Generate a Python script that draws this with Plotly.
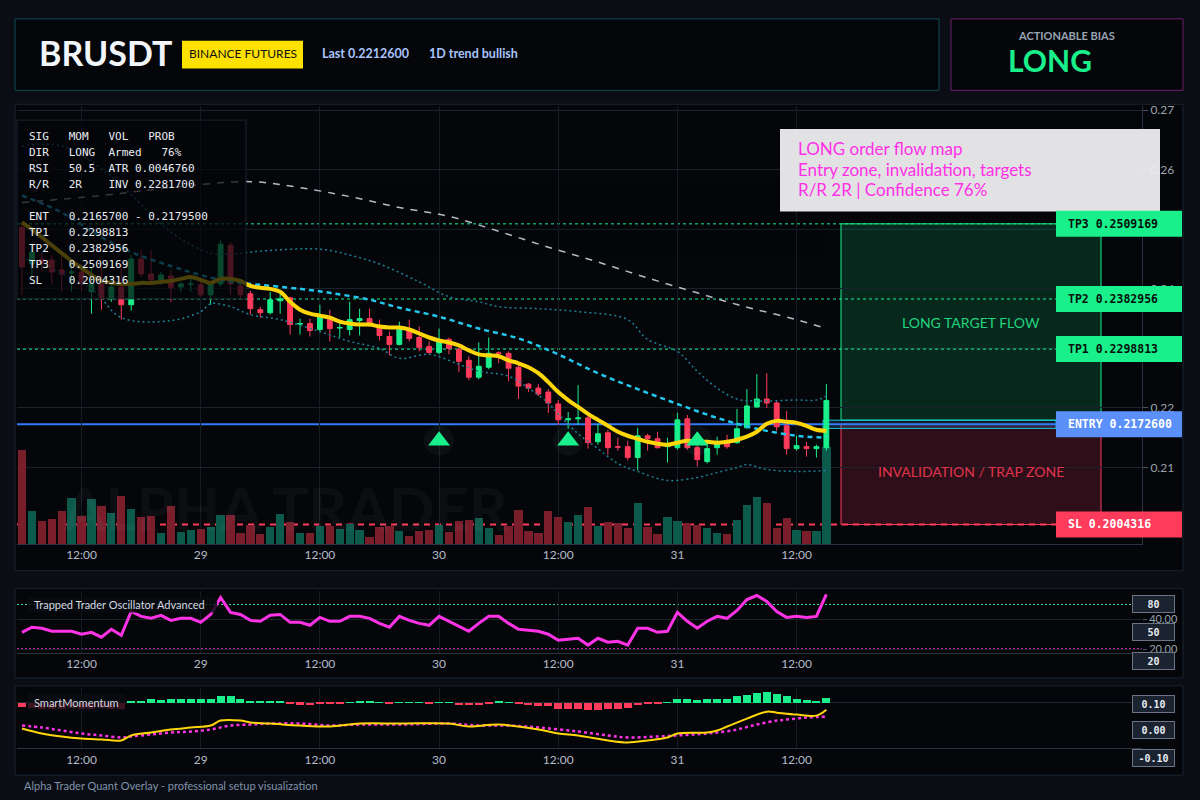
import plotly.graph_objects as go
import pandas as pd

# ---------------- data ----------------
times = pd.date_range("2025-03-28 06:00", periods=82, freq="h")

open_ = [0.25033,0.24417,0.24500,0.24483,0.24317,0.24267,0.24283,0.23950,0.24083,0.23833,
         0.24033,0.23733,0.24500,0.24250,0.24150,0.24217,0.24033,0.24075,0.24067,0.23900,
         0.24083,0.24733,0.24050,0.23917,0.23650,0.23600,0.23800,0.23850,0.23408,0.23417,
         0.23317,0.23533,0.23342,0.23317,0.23467,0.23500,0.23367,0.23200,0.23067,0.23317,
         0.23183,0.23033,0.22933,0.23150,0.22983,0.22800,0.22517,0.22683,0.22925,0.22917,
         0.22683,0.22400,0.22333,0.22267,0.22067,0.21800,0.21817,0.21833,0.21433,0.21583,
         0.21350,0.21350,0.21167,0.21533,0.21483,0.21350,0.21333,0.21817,0.21333,0.21100,
         0.21333,0.21450,0.21417,0.21667,0.22017,0.22150,0.22083,0.21700,0.21317,0.21350,
         0.21317,0.21333]
high = [0.25117,0.24733,0.24617,0.24567,0.24617,0.24450,0.24417,0.24367,0.24367,0.24200,
        0.24417,0.24567,0.24650,0.24650,0.24283,0.24317,0.24117,0.24200,0.24117,0.24117,
        0.24817,0.24783,0.24117,0.23967,0.23700,0.23950,0.23917,0.23867,0.23500,0.23500,
        0.23733,0.23650,0.23483,0.23783,0.23667,0.23667,0.23483,0.23283,0.23450,0.23483,
        0.23367,0.23117,0.23333,0.23183,0.23033,0.22867,0.23100,0.23183,0.22950,0.22950,
        0.22750,0.22417,0.22400,0.22317,0.22133,0.21933,0.22383,0.21867,0.21733,0.21633,
        0.21500,0.21450,0.21667,0.21567,0.21600,0.21500,0.21917,0.21883,0.21450,0.21467,
        0.21517,0.21550,0.21983,0.22317,0.22567,0.22583,0.22117,0.21950,0.21533,0.21433,
        0.21383,0.22400]
low = [0.23900,0.24167,0.24283,0.24083,0.23950,0.23950,0.23950,0.23583,0.23650,0.23783,
       0.23483,0.23633,0.24200,0.24117,0.24067,0.23783,0.23950,0.23950,0.23867,0.23733,
       0.24033,0.23900,0.23833,0.23567,0.23517,0.23567,0.23583,0.23233,0.23233,0.23200,
       0.23283,0.23117,0.23183,0.23217,0.23217,0.23367,0.23133,0.22883,0.23050,0.23117,
       0.22950,0.22900,0.22900,0.22900,0.22600,0.22467,0.22483,0.22650,0.22750,0.22450,
       0.22150,0.22267,0.22200,0.21917,0.21717,0.21650,0.21717,0.21317,0.21383,0.21217,
       0.21283,0.21117,0.20950,0.21283,0.21317,0.21083,0.21300,0.21300,0.21017,0.21067,
       0.21217,0.21317,0.21400,0.21650,0.22000,0.22000,0.21617,0.21217,0.21283,0.21183,
       0.21167,0.21283]
close = [0.24367,0.24617,0.24417,0.24283,0.24250,0.24283,0.24083,0.24083,0.23833,0.24033,
         0.23733,0.24500,0.24250,0.24150,0.24233,0.24017,0.24083,0.24083,0.23900,0.24083,
         0.24750,0.24083,0.23900,0.23667,0.23600,0.23817,0.23833,0.23400,0.23417,0.23300,
         0.23533,0.23333,0.23350,0.23483,0.23500,0.23383,0.23217,0.23067,0.23317,0.23167,
         0.23017,0.22933,0.23133,0.23000,0.22783,0.22517,0.22700,0.22917,0.22917,0.22667,
         0.22367,0.22333,0.22233,0.22083,0.21800,0.21817,0.21833,0.21417,0.21567,0.21333,
         0.21342,0.21167,0.21533,0.21483,0.21333,0.21367,0.21800,0.21333,0.21133,0.21317,
         0.21417,0.21350,0.21650,0.22033,0.22150,0.22083,0.21683,0.21317,0.21367,0.21317,
         0.21350,0.22126]
volume = [9.4,3.3,2.3,2.5,3.3,4.6,2.8,4.5,3.8,3.1,
          4.8,3.5,2.7,2.8,1.1,3.8,1.2,1.4,1.5,1.7,
          2.9,2.9,1.1,1.9,1.0,1.7,3.0,2.2,1.1,1.1,
          1.8,1.8,1.5,2.0,1.4,0.7,1.7,1.8,1.3,0.8,
          1.3,1.4,1.9,1.2,2.3,2.4,2.6,1.6,0.9,1.8,
          3.4,1.3,1.1,3.3,2.7,2.2,2.9,3.7,1.8,2.2,
          2.1,1.6,4.1,1.7,1.0,2.7,2.3,2.1,1.9,1.6,
          1.1,1.0,2.4,3.9,4.7,4.1,1.6,2.6,1.4,1.3,
          1.3,9.7]
ema = [0.25117,0.25000,0.24867,0.24733,0.24600,0.24467,0.24350,0.24233,0.24133,0.24100,
       0.24083,0.24083,0.24100,0.24100,0.24117,0.24133,0.24167,0.24200,0.24150,0.24100,
       0.24167,0.24167,0.24133,0.24050,0.24017,0.24000,0.23950,0.23783,0.23650,0.23583,
       0.23550,0.23517,0.23450,0.23417,0.23400,0.23400,0.23367,0.23350,0.23350,0.23317,
       0.23250,0.23183,0.23133,0.23100,0.23050,0.22967,0.22900,0.22883,0.22867,0.22800,
       0.22750,0.22683,0.22583,0.22433,0.22267,0.22133,0.22017,0.21900,0.21800,0.21700,
       0.21600,0.21533,0.21483,0.21433,0.21400,0.21383,0.21417,0.21450,0.21433,0.21433,
       0.21417,0.21433,0.21467,0.21517,0.21600,0.21733,0.21783,0.21767,0.21750,0.21700,
       0.21633,0.21617]
sma_idx = [1,5,9,12,16,19,22,24,29,32,36,39,43,47,51,55,59,63,67,71,75,79,82]
sma_val = [0.25567,0.25283,0.24867,0.24617,0.24383,0.24233,0.24117,0.24083,0.24000,0.23933,
           0.23817,0.23683,0.23533,0.23333,0.23167,0.22900,0.22583,0.22317,0.22067,0.21833,
           0.21650,0.21533,0.21500]
slow_ma_idx = [1,9,16,24,29,34,39,44,49,54,59,64,69,72,75,79,82]
slow_ma_val = [0.25450,0.25567,0.25700,0.25800,0.25700,0.25550,0.25367,0.25217,0.24967,0.24700,
               0.24450,0.24183,0.23933,0.23783,0.23650,0.23483,0.23333]
bb_up_idx = [1,5,9,12,16,20,22,25,31,34,37,41,44,47,49,53,57,62,64,67,69,71,73,75,79,81,82]
bb_up_val = [0.26400,0.26400,0.26017,0.25583,0.24950,0.24600,0.24583,0.24633,0.24667,0.24567,
             0.24417,0.24117,0.23867,0.23783,0.23700,0.23667,0.23617,0.23483,0.23150,0.22950,
             0.22617,0.22333,0.22150,0.22117,0.22133,0.22133,0.22200]
bb_lo_idx = [1,8,11,16,19,20,22,24,27,31,34,37,39,42,45,47,50,52,54,55,57,59,61,63,66,69,71,73,74,76,79,82]
bb_lo_val = [0.24533,0.24000,0.23517,0.23467,0.23617,0.23750,0.23700,0.23567,0.23483,0.23283,
             0.23117,0.23000,0.22833,0.22900,0.22733,0.22617,0.22533,0.22333,0.22083,0.21900,
             0.21567,0.21317,0.21067,0.20933,0.20783,0.20833,0.20917,0.21000,0.21050,0.20967,
             0.20933,0.20950]
signal_idx = [43,56,69]
signal_price = 0.2145

oscillator = [31.3,34.7,34.0,32.0,32.0,32.0,30.0,31.3,28.0,33.3,
              29.3,45.3,42.0,40.7,42.7,39.3,40.7,40.7,38.0,43.3,
              54.7,44.7,43.3,39.3,38.7,42.7,43.3,38.0,38.0,36.0,
              41.3,38.7,38.7,42.0,42.0,40.7,37.3,34.7,42.0,39.3,
              37.3,36.0,42.0,38.7,35.3,32.0,37.3,42.0,42.0,37.3,
              33.3,32.7,32.0,30.0,26.0,26.7,27.3,22.7,27.3,24.7,
              25.3,22.7,34.0,34.0,31.3,32.0,44.7,38.7,34.0,38.7,
              42.0,40.7,46.0,53.3,56.0,52.0,45.3,41.3,42.0,41.3,
              42.0,56.7]
momentum_hist = [-0.0040,-0.0050,-0.0060,-0.0060,-0.0060,-0.0050,-0.0060,-0.0060,-0.0050,-0.0060,
                 -0.0060,0.0010,0.0023,0.0037,0.0033,0.0040,0.0043,0.0043,0.0037,0.0043,
                 0.0073,0.0067,0.0040,0.0020,0.0010,0.0010,0.0010,-0.0010,-0.0017,-0.0023,
                 -0.0013,-0.0013,-0.0013,0.0007,0.0013,0.0013,0.0003,-0.0010,0.0003,0.0003,
                 0.0003,-0.0013,0.0003,0.0003,-0.0023,-0.0023,-0.0023,-0.0007,0.0013,0.0003,
                 -0.0013,-0.0023,-0.0033,-0.0033,-0.0057,-0.0057,-0.0057,-0.0067,-0.0067,-0.0057,
                 -0.0057,-0.0050,-0.0023,-0.0013,-0.0013,0.0003,0.0037,0.0043,0.0027,0.0037,
                 0.0043,0.0043,0.0067,0.0083,0.0103,0.0113,0.0093,0.0067,0.0043,0.0027,
                 0.0023,0.0053]
mom_fast_idx = [1,3,5,7,9,11,12,14,16,18,20,21,23,24,26,29,32,35,39,44,46,49,53,55,57,60,62,64,66,67,70,71,72,74,76,77,79,81,82]
mom_fast_val = [0.0055,-0.0127,-0.0236,-0.0309,-0.0345,-0.0382,-0.0200,-0.0091,0.0018,0.0091,
                0.0164,0.0345,0.0345,0.0273,0.0236,0.0164,0.0127,0.0236,0.0236,0.0236,
                0.0127,0.0200,0.0018,-0.0127,-0.0200,-0.0382,-0.0455,-0.0382,-0.0273,-0.0127,
                -0.0091,-0.0018,0.0127,0.0418,0.0673,0.0636,0.0564,0.0527,0.0745]
mom_slow_idx = [1,3,5,7,9,11,12,14,16,18,20,22,24,26,29,32,35,39,44,47,50,53,57,60,62,65,67,70,71,73,75,77,78,80,82]
mom_slow_val = [0.0164,0.0091,-0.0018,-0.0127,-0.0200,-0.0273,-0.0236,-0.0164,-0.0091,-0.0055,
                0.0018,0.0164,0.0200,0.0236,0.0236,0.0164,0.0200,0.0200,0.0236,0.0164,
                0.0164,0.0091,-0.0055,-0.0200,-0.0273,-0.0236,-0.0200,-0.0127,-0.0091,0.0018,
                0.0200,0.0345,0.0382,0.0455,0.0491]

tick_vals = ["2025-03-28 12:00","2025-03-29 00:00","2025-03-29 12:00","2025-03-30 00:00",
             "2025-03-30 12:00","2025-03-31 00:00","2025-03-31 12:00"]
tick_text = ["12:00","29","12:00","30","12:00","31","12:00"]
x_range = ["2025-03-28 05:30","2025-04-01 22:47"]
price_ticks = [0.21, 0.22, 0.24, 0.26, 0.27]      # 0.23 / 0.25 sit behind the TP tags
price_hidden_grid = [0.23, 0.25]

ENT_LOW, ENT_HIGH, ENTRY = 0.21657, 0.21795, 0.21726
TP1, TP2, TP3, SL = 0.2298813, 0.2382956, 0.2509169, 0.2004316

symbol = "BRUSDT"
exchange = "BINANCE FUTURES"
last_text = "Last 0.2212600"
trend_text = "1D trend bullish"
bias = "LONG"
info_lines = ["SIG   MOM   VOL   PROB",
              "DIR   LONG  Armed   76%",
              "RSI   50.5  ATR 0.0046760",
              "R/R   2R    INV 0.2281700",
              "",
              "ENT   0.2165700 - 0.2179500",
              "TP1   0.2298813",
              "TP2   0.2382956",
              "TP3   0.2509169",
              "SL    0.2004316"]
note_lines = ["LONG order flow map", "Entry zone, invalidation, targets", "R/R 2R | Confidence 76%"]

# ---------------- styling helpers ----------------
FONT = "Lato, 'Noto Sans', 'DejaVu Sans', sans-serif"
MONO = "'DejaVu Sans Mono', 'Liberation Mono', monospace"
GREEN = "#19f08c"
RED = "#ff3b5c"
MAGENTA = "#ff33e6"
W, H = 1200, 800


def px(x):
    return x / W


def py(y):
    return 1 - y / H


def pick(idx):
    return [times[i - 1] for i in idx]


fig = go.Figure()

# volume (base axis of main panel)
vol_colors = ["#0c5a4b" if c >= o else "#7a1e2c" for o, c in zip(open_, close)]
fig.add_trace(go.Bar(x=times, y=volume, marker=dict(color=vol_colors, line=dict(width=0)),
                     width=3.0e6, xaxis="x", yaxis="y", hoverinfo="skip"))

# candles
fig.add_trace(go.Candlestick(
    x=times, open=open_, high=high, low=low, close=close, xaxis="x", yaxis="y2",
    increasing=dict(line=dict(color=GREEN, width=1), fillcolor=GREEN),
    decreasing=dict(line=dict(color=RED, width=1), fillcolor=RED),
    whiskerwidth=0, hoverinfo="skip"))

# bands & averages
fig.add_trace(go.Scatter(x=pick(bb_up_idx), y=bb_up_val, mode="lines", xaxis="x", yaxis="y2",
                         line=dict(color="#1f7f96", width=1.5, dash="2px,3px", shape="spline"), hoverinfo="skip"))
fig.add_trace(go.Scatter(x=pick(bb_lo_idx), y=bb_lo_val, mode="lines", xaxis="x", yaxis="y2",
                         line=dict(color="#1f7f96", width=1.5, dash="2px,3px", shape="spline"), hoverinfo="skip"))
fig.add_trace(go.Scatter(x=pick(slow_ma_idx), y=slow_ma_val, mode="lines", xaxis="x", yaxis="y2",
                         line=dict(color="#d6dbe3", width=1.5, dash="7px,7px", shape="spline"),
                         opacity=0.85, hoverinfo="skip"))
fig.add_trace(go.Scatter(x=pick(sma_idx), y=sma_val, mode="lines", xaxis="x", yaxis="y2",
                         line=dict(color="#22c8ee", width=2.5, dash="5px,4px", shape="spline"), hoverinfo="skip"))
fig.add_trace(go.Scatter(x=times, y=ema, mode="lines", xaxis="x", yaxis="y2",
                         line=dict(color="#ffd60a", width=4, shape="spline"), hoverinfo="skip"))

# signals (soft halo + triangle)
fig.add_trace(go.Scatter(x=pick(signal_idx), y=[signal_price] * len(signal_idx), mode="markers",
                         xaxis="x", yaxis="y2",
                         marker=dict(symbol="circle", size=30, color="rgba(180,255,220,0.045)"), hoverinfo="skip"))
fig.add_trace(go.Scatter(x=pick(signal_idx), y=[signal_price] * len(signal_idx), mode="markers",
                         xaxis="x", yaxis="y2",
                         marker=dict(symbol="triangle-up", size=19, color=GREEN), hoverinfo="skip"))

# oscillator
fig.add_trace(go.Scatter(x=times, y=oscillator, mode="lines", xaxis="x2", yaxis="y3",
                         line=dict(color=MAGENTA, width=3), hoverinfo="skip"))

# momentum
hist_colors = [GREEN if v >= 0 else RED for v in momentum_hist]
fig.add_trace(go.Bar(x=times, y=momentum_hist, marker=dict(color=hist_colors, line=dict(width=0)),
                     width=2.9e6, xaxis="x3", yaxis="y4", hoverinfo="skip"))
fig.add_trace(go.Scatter(x=pick(mom_slow_idx), y=mom_slow_val, mode="lines", xaxis="x3", yaxis="y5",
                         line=dict(color=MAGENTA, width=2.5, dash="3px,3px", shape="spline"), hoverinfo="skip"))
fig.add_trace(go.Scatter(x=pick(mom_fast_idx), y=mom_fast_val, mode="lines", xaxis="x3", yaxis="y5",
                         line=dict(color="#ffd60a", width=2, shape="spline"), hoverinfo="skip"))

# ---------------- axes ----------------
xcommon = dict(type="date", range=x_range, tickmode="array", tickvals=tick_vals, ticktext=tick_text,
               showgrid=True, gridcolor="#151c26", gridwidth=1, zeroline=False,
               showline=True, linecolor="#2b3542", linewidth=1, ticks="",
               tickfont=dict(family=FONT, size=12, color="#b4bcc8"),
               domain=[px(17), px(1142)], fixedrange=True)

layout = dict(
    width=W, height=H, margin=dict(l=0, r=0, t=0, b=0),
    paper_bgcolor="#0a0d13", plot_bgcolor="rgba(0,0,0,0)",
    showlegend=False, hovermode=False, bargap=0,
    xaxis=dict(**xcommon, anchor="y", rangeslider=dict(visible=False)),
    xaxis2=dict(**xcommon, anchor="y3"),
    xaxis3=dict(**xcommon, anchor="y4"),
    yaxis=dict(domain=[py(544), py(103)], range=[0, 44.1], visible=False, anchor="x", fixedrange=True),
    yaxis2=dict(domain=[py(544), py(103)], overlaying="y", anchor="x", side="right",
                range=[0.197167, 0.270667], tickmode="array", tickvals=price_ticks, tickformat=".2f",
                showgrid=True, gridcolor="#1a222c", zeroline=False,
                ticks="outside", ticklen=5, tickcolor="#4b5563",
                showline=True, linecolor="#2b3542",
                tickfont=dict(family=FONT, size=12, color="#9aa3ad"), fixedrange=True),
    yaxis3=dict(domain=[py(654), py(591)], anchor="x2", side="right", range=[17.33, 59.33],
                tickmode="array", tickvals=[20, 40], tickformat=".2f",
                showgrid=True, gridcolor="#1a222c", zeroline=False,
                ticks="outside", ticklen=4, tickcolor="#4b5563",
                tickfont=dict(family=FONT, size=11, color="#9aa3ad"), fixedrange=True),
    yaxis4=dict(domain=[py(750), py(689)], anchor="x3", side="right", range=[-0.046, 0.015],
                tickmode="array", tickvals=[0], showticklabels=False,
                showgrid=True, gridcolor="#1f2833", zeroline=False, fixedrange=True),
    yaxis5=dict(domain=[py(750), py(689)], overlaying="y4", anchor="x3", side="right",
                range=[-0.0673, 0.1545], visible=False, fixedrange=True),
)

# ---------------- shapes ----------------
shapes = []


def prect(x0, y0, x1, y1, fill, line=None, lw=1, layer="below"):
    shapes.append(dict(type="rect", xref="paper", yref="paper", x0=px(x0), x1=px(x1), y0=py(y1), y1=py(y0),
                       fillcolor=fill, line=dict(color=line if line else "rgba(0,0,0,0)", width=lw if line else 0),
                       layer=layer))


PANEL = "#04060a"
prect(15, 15, 939, 87, PANEL, "#0f4a57")
prect(951, 15, 1183, 87, PANEL, "#6d1f69")
prect(15, 101, 1183, 571, PANEL, "#1a2430")
prect(15, 589, 1183, 679, PANEL, "#1a2430")
prect(15, 687, 1183, 777, PANEL, "#1a2430")
prect(182, 37, 303, 65, "#ffe100")

# grid lines for the price levels whose labels are covered by the tags
for g in price_hidden_grid:
    shapes.append(dict(type="line", xref="paper", yref="y2", x0=px(17), x1=px(1142), y0=g, y1=g,
                       line=dict(color="#1a222c", width=1), layer="below"))

# target / invalidation boxes
shapes.append(dict(type="rect", xref="paper", yref="y2", x0=px(841), x1=px(1101), y0=ENT_HIGH, y1=TP3,
                   fillcolor="rgba(25,240,140,0.15)", line=dict(color=GREEN, width=1), layer="below"))
shapes.append(dict(type="rect", xref="paper", yref="y2", x0=px(841), x1=px(1101), y0=SL, y1=ENTRY,
                   fillcolor="rgba(255,59,92,0.17)", line=dict(color=RED, width=1), layer="below"))
shapes.append(dict(type="rect", xref="paper", yref="y2", x0=px(823), x1=px(1056), y0=ENT_LOW, y1=ENT_HIGH,
                   fillcolor="rgba(90,150,210,0.16)", line=dict(color="#19c6e6", width=1), layer="below"))


def hline(level, color, width, dash, yref="y2", x1=1056):
    shapes.append(dict(type="line", xref="paper", yref=yref, x0=px(17), x1=px(x1), y0=level, y1=level,
                       line=dict(color=color, width=width, dash=dash), layer="below"))


for lvl in (TP1, TP2, TP3):
    hline(lvl, GREEN, 1, "3px,3px")
hline(ENTRY, "#2f7cf6", 2, "solid")
hline(SL, RED, 2, "6px,5px")
hline(50, "#3ee6a0", 1, "2px,2px", yref="y3", x1=1132)
hline(20, MAGENTA, 1.5, "2px,2px", yref="y3", x1=1142)

# info box overlay (dims what's under it)
prect(17, 117, 246, 297, "rgba(4,6,10,0.72)", "#1b2430", layer="above")
# note box
prect(780, 126, 1160, 209, "rgba(238,238,240,0.95)", layer="above")
# panel labels
prect(28, 598, 217, 613, "rgba(10,12,18,0.85)", layer="above")
prect(28, 695, 125, 712, "rgba(10,12,18,0.8)", layer="above")

# price-level tags
level_tags = [(TP3, GREEN), (TP2, GREEN), (TP1, GREEN), (ENTRY, "#5b8ff9"), (SL, RED)]
for lvl, col in level_tags:
    shapes.append(dict(type="rect", xref="paper", yref="y2", ysizemode="pixel", yanchor=lvl,
                       x0=px(1056), x1=px(1182), y0=-13, y1=13, fillcolor=col, line=dict(width=0),
                       layer="above"))

layout["shapes"] = shapes

# ---------------- annotations ----------------
ann = []


def text(x, y, s, size, color, family=FONT, xanchor="left", yref="paper", **kw):
    ann.append(dict(x=px(x), y=(py(y) if yref == "paper" else y), xref="paper", yref=yref, text=s,
                    showarrow=False, xanchor=xanchor, yanchor="middle",
                    font=dict(family=family, size=size, color=color), **kw))


# watermark
text(285, 508, "<b>ALPHA TRADER</b>", 60, "rgba(255,255,255,0.035)", xanchor="center")

# header
text(37, 49, f"<b>{symbol}</b>", 34, "#f2f6fb")
text(242.5, 50, exchange, 12, "#111111", xanchor="center")
text(320, 50, f"<b>{last_text}</b>", 12.5, "#a9c4fb")
text(427, 50, f"<b>{trend_text}</b>", 12.5, "#a9c4fb")
text(1066, 32, "<b>ACTIONABLE BIAS</b>", 11, "#9aa3b0", xanchor="center")
text(1050, 56, f"<b>{bias}</b>", 30, GREEN, xanchor="center")

# info box lines
for i, line in enumerate(info_lines):
    if line:
        text(27, 133 + 16.2 * i, line.replace(" ", "\u00a0"), 11, "#e8ecf2", family=MONO)

# note lines
for i, line in enumerate(note_lines):
    text(796, 146 + 20.5 * i, line, 17, "#ff2fe6")

# zone texts
text(971, 321, "LONG TARGET FLOW", 14, "#22d37f", xanchor="center")
text(971, 471, "INVALIDATION / TRAP ZONE", 14, "#e0344f", xanchor="center")

# tags text
tag_texts = [(TP3, "TP3 " + f"{TP3:.7f}", "#04110a"), (TP2, "TP2 " + f"{TP2:.7f}", "#04110a"),
             (TP1, "TP1 " + f"{TP1:.7f}", "#04110a"), (ENTRY, "ENTRY " + f"{ENTRY:.7f}", "#ffffff"),
             (SL, "SL " + f"{SL:.7f}", "#ffffff")]
for lvl, s, col in tag_texts:
    ann.append(dict(x=px(1066), y=lvl, xref="paper", yref="y2", text=f"<b>{s}</b>", showarrow=False,
                    xanchor="left", yanchor="middle", font=dict(family=MONO, size=11.5, color=col)))

# panel labels
text(32, 605.5, "Trapped Trader Oscillator Advanced", 11, "#d3d9e0")
text(32, 703.5, "SmartMomentum", 11, "#d3d9e0")


def badge(y, s):
    ann.append(dict(x=px(1153.5), y=py(y), xref="paper", yref="paper", text=f"<b>{s}</b>", showarrow=False,
                    xanchor="center", yanchor="middle", width=37, height=12, borderpad=2, borderwidth=1,
                    bgcolor="#1b2230", bordercolor="#6a7484",
                    font=dict(family=MONO, size=10, color="#e6eaf0")))


for yy, s in [(605, "80"), (633, "50"), (662, "20"), (705, "0.10"), (731, "0.00"), (760, "-0.10")]:
    badge(yy, s)

# footer
text(22, 787, "Alpha Trader Quant Overlay - professional setup visualization", 11, "#8093ab")

layout["annotations"] = ann
fig.update_layout(**layout)

fig.write_html("out.html", config={"displayModeBar": False},
               post_script="document.body.style.margin='0';document.body.style.overflow='hidden';")
